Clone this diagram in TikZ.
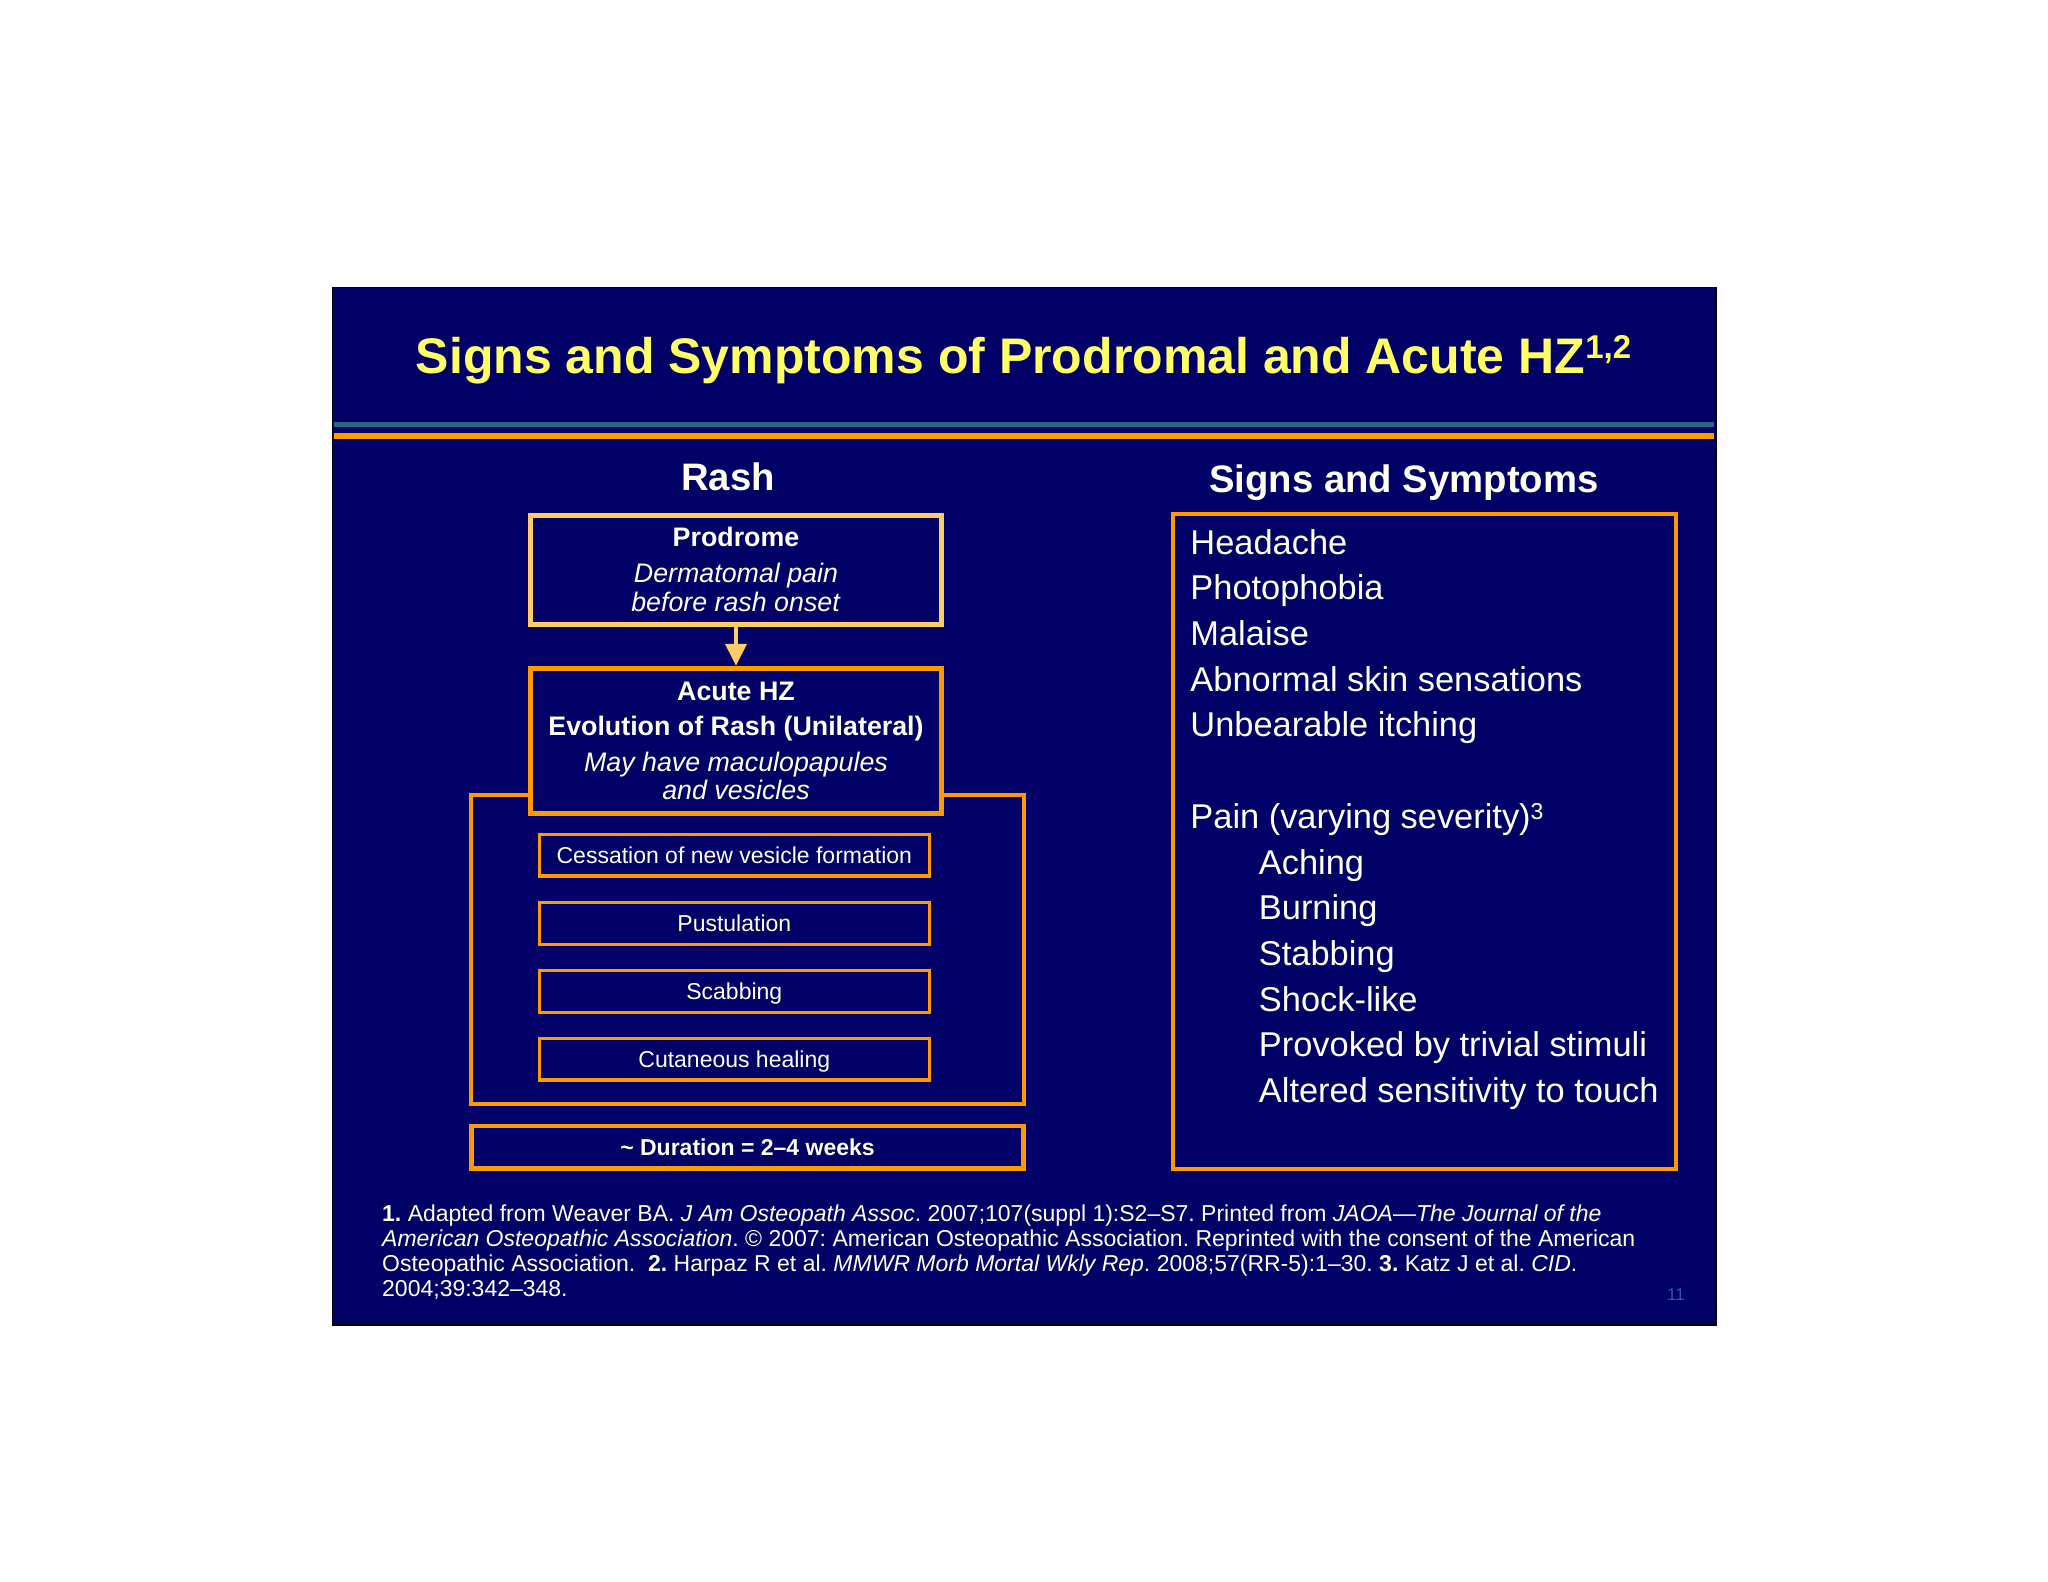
\documentclass[tikz,border=0pt]{standalone}
\usepackage{fontspec}
\setmainfont{Liberation Sans}
\usetikzlibrary{arrows.meta}
\definecolor{slidebg}{HTML}{000066}
\definecolor{titleyel}{HTML}{FFFF66}
\definecolor{cream}{HTML}{FFFFF0}
\definecolor{orangeA}{HTML}{FF9900}
\definecolor{orangeB}{HTML}{FFCC66}
\definecolor{tealbar}{HTML}{2B6685}
\definecolor{pagenum}{HTML}{3355BB}
\newcommand{\fs}[2]{\fontsize{#1}{#2}\selectfont}
\tikzset{
  x=1pt,y=-1pt,
  boxbase/.style={draw=orangeA,fill=slidebg,text=cream,inner sep=0pt,align=center},
  bigbox/.style={boxbase,line width=4.8pt,minimum width=411.5pt},
  smallbox/.style={boxbase,line width=3.2pt,minimum width=390pt,minimum height=41.3pt,
    font=\fs{23}{28},text height=15.5pt,text depth=0pt},
  heading/.style={anchor=base,inner sep=0pt,text=cream,font=\bfseries\fs{38.3}{44}},
  bar/.style={line width=5.7pt}
}
\begin{document}
\begin{tikzpicture}
\useasboundingbox (0,0) rectangle (2048,1582);
\fill[white] (0,0) rectangle (2048,1582);
\draw[fill=slidebg,draw=black,line width=1.5pt] (332.5,287.5) rectangle (1716,1325);
\coordinate (barLa) at (334,424.6); \coordinate (barLb) at (1714,424.6);
\coordinate (barOa) at (334,436); \coordinate (barOb) at (1714,436);
\draw[bar,tealbar] (barLa) -- (barLb);
\draw[bar,orangeA] (barOa) -- (barOb);

\node[anchor=base,inner sep=0pt,text=titleyel,font=\bfseries\fs{50}{56}] (title) at (1023.5,373)
  {Signs and Symptoms of Prodromal and Acute HZ\raisebox{15pt}{\fs{33}{36}1,2}};
\node[heading] (rash) at (728,490) {Rash};
\node[heading] (signs) at (1404,492.6) {Signs and Symptoms};

% enclosing box behind the acute box
\node[boxbase,line width=4.4pt,minimum width=552.6pt,minimum height=309pt] (evolution) at (747.5,949.7) {};

\node[bigbox,draw=orangeB,minimum height=109pt,font=\fs{26.8}{28.5},text height=82pt,text depth=0pt] (prodrome) at (736,570)
  {\textbf{Prodrome}\\[7.2pt]\textit{Dermatomal pain}\\\textit{before rash onset}};
\node[bigbox,minimum height=145.7pt,font=\fs{26.8}{28.6},text height=117.2pt,text depth=0pt] (acute) at (736,741)
  {\textbf{Acute HZ}\\[6.4pt]\textbf{Evolution of Rash (Unilateral)}\\[7pt]\textit{May have maculopapules}\\\textit{and vesicles}};
\draw[orangeB,line width=4pt,-{Triangle[length=22pt,width=21pt]}] (prodrome.south) -- (acute.north);

\node[smallbox] (s1) at (734.3,855.3) {Cessation of new vesicle formation};
\node[smallbox] (s2) at (734.3,923.5) {Pustulation};
\node[smallbox] (s3) at (734.3,991.5) {Scabbing};
\node[smallbox] (s4) at (734.3,1059.4) {Cutaneous healing};

\node[boxbase,line width=4.8pt,minimum width=552.6pt,minimum height=42.6pt,font=\bfseries\fs{23}{28},text height=16pt,text depth=0pt] (duration) at (747.5,1147.3) {\textasciitilde{} Duration = 2–4 weeks};

\node[boxbase,line width=4.4pt,minimum width=502.6pt,minimum height=655pt,align=left,font=\fs{34.4}{45.7},text height=521.6pt,text depth=0pt] (list) at (1424.5,841.7)
  {Headache\\Photophobia\\Malaise\\Abnormal skin sensations\\Unbearable itching\\[45.7pt]%
   Pain (varying severity)\raisebox{9pt}{\fs{23}{26}3}\\
   \hspace{68.5pt}Aching\\\hspace{68.5pt}Burning\\\hspace{68.5pt}Stabbing\\\hspace{68.5pt}Shock-like\\\hspace{68.5pt}Provoked by trivial stimuli\\\hspace{68.5pt}Altered sensitivity to touch};

\node[anchor=west,inner sep=0pt,align=left,text=cream,font=\frenchspacing\fs{23}{25},text height=0pt,text depth=0pt] (refs) at (382,1296.4)
  {\textbf{1.} Adapted from Weaver BA. \textit{J Am Osteopath Assoc}. 2007;107(suppl 1):S2–S7. Printed from \textit{JAOA—The Journal of the}\\
   \textit{American Osteopathic Association}. © 2007: American Osteopathic Association. Reprinted with the consent of the American\\
   Osteopathic Association.\ \ \textbf{2.} Harpaz R et al. \textit{MMWR Morb Mortal Wkly Rep}. 2008;57(RR-5):1–30. \textbf{3.} Katz J et al. \textit{CID}.\\
   2004;39:342–348.};
\node[anchor=base east,inner sep=0pt,text=pagenum,font=\fs{17}{18}] (pg) at (1685,1300) {11};
\end{tikzpicture}
\end{document}
